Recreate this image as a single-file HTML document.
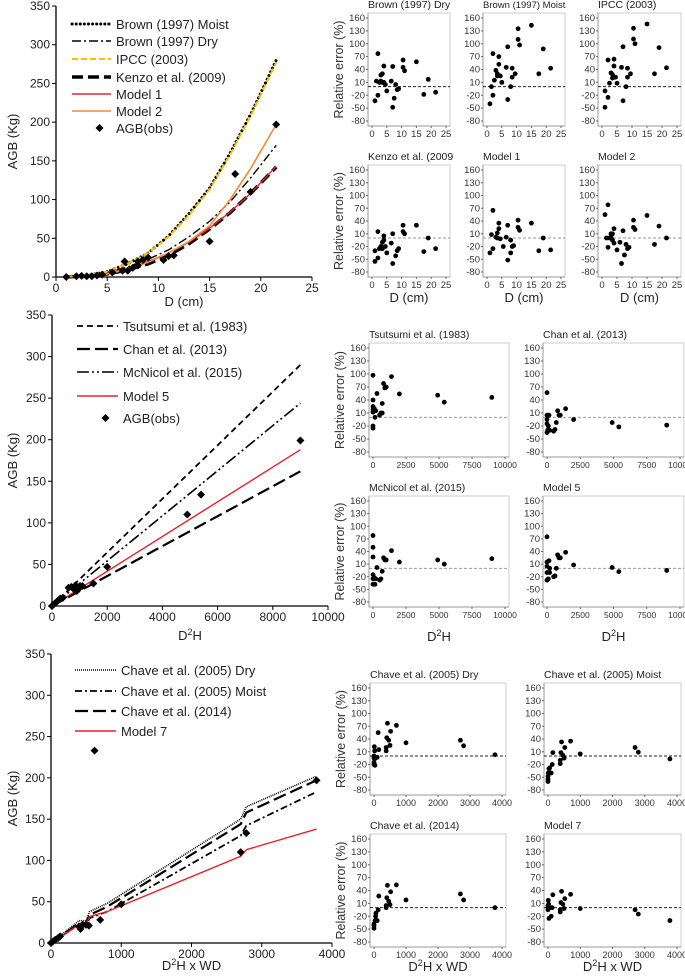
<!DOCTYPE html>
<html><head><meta charset="utf-8"><style>
body{margin:0;background:#fff;}
svg{display:block;font-family:"Liberation Sans",sans-serif;}
</style></head><body>
<svg id="fig" width="685" height="976" viewBox="0 0 685 976" xmlns="http://www.w3.org/2000/svg"></svg>
<script>
// ---------- Main chart 1 data (D cm) ----------
const c1Grid=[1,3,5,7,9,11,13,15,17,19,21.5];
const c1BrownMoist=[0.2,2,7,17,31,53,82,115,160,210,280];
const c1BrownDry=[0.3,2,6,13,23,35,52,72,97,128,170];
const c1IPCC=[0.2,2,7,17,31,52,80,113,158,208,277];
const c1Kenzo=[0.1,1,4,9,17,28,43,62,83,108,142];
const c1Model1=[0.2,1.5,5,11,20,31,45,63,84,108,143];
const c1Model2=[0.1,1,4,10,19,31,46,66,100,140,197];
const c1ObsX=[1,2,2.5,3,3.5,4,4.5,5.5,6.5,6.7,7,7.5,8,8,8.5,9,10.5,11,11.5,15,17.5,19,21.5];
const c1ObsY=[0,1,1.5,1,1,2,3,6,8,20,8,12,20,15,22,25,22,27,28,46,133,110,197];
const c1XTicks=[0,5,10,15,20,25];
const yTicksMain=[0,50,100,150,200,250,300,350];
// ---------- Main chart 2 (D2H) ----------
const c2Grid=[0,9000];
const c2Tsutsumi=[0,290];
const c2Chan=[0,162];
const c2McNicol=[0,244];
const c2Model5=[0,188];
const c2ObsX=[0,100,200,300,400,600,700,800,850,900,1000,1100,1500,2000,4900,5400,9000];
const c2ObsY=[0,3,6,9,10,22,23,20,25,18,22,24,27,47,110,134,199];
const c2XTicks=[0,2000,4000,6000,8000,10000];
// ---------- Main chart 3 (D2H x WD) ----------
const c3Grid=[0,400,500,550,800,2700,2780,3780];
const c3Dry=[0,27,27,38,48,150,165,202];
const c3Moist=[0,22,22,30,38,130,142,183];
const c3C2014=[0,24,24,34,44,144,158,197];
const c3Model7=[0,22,22,32,38,105,113,138];
const c3ObsX=[0,30,60,100,130,400,420,450,500,540,620,700,1000,2700,2780,3780];
const c3ObsY=[0,2,4,6,8,20,17,22,22,21,233,28,47,110,133,197];
const c3XTicks=[0,1000,2000,3000,4000];
// ---------- Residual panels ----------
const resYTicks=[160,130,100,70,40,10,-20,-50,-80];
const rBrownDry=[[1,-33],[1.5,13],[2,77],[2,-20],[2.5,10],[3,27],[3,13],[3.5,30],[3.5,10],[4,48],[4,10],[4.5,5],[5,-10],[6.5,13],[7,47],[7,-48],[7.5,-27],[8,5],[8.5,-7],[9,-5],[10.5,62],[10.5,45],[11,37],[15,58],[17.5,-18],[19,17],[21.5,-13]];
const rBrownMoist=[[1,-40],[1.5,0],[2,77],[2,-20],[2.5,15],[3,38],[3.5,30],[3.5,25],[4,52],[4,70],[4.5,25],[5,10],[6.5,45],[7,93],[7,-30],[8,0],[8.5,22],[8.5,43],[9.5,30],[10.5,135],[10.5,110],[11,97],[15,143],[17.5,30],[19,88],[21.5,43]];
const rIPCC=[[1,-10],[1,-48],[2,62],[2,-25],[2.5,8],[3,32],[3.5,28],[3.5,20],[4,48],[4,64],[4.5,22],[5,8],[6.5,45],[7,93],[7,-33],[8,0],[8.5,22],[8.5,43],[9.5,30],[10.5,136],[10.5,111],[11,100],[15,146],[17.5,30],[19,91],[21.5,44]];
const rKenzo=[[1,-55],[1,-30],[2,15],[2,-47],[2.5,-25],[3,-20],[3.5,-10],[3.5,-25],[4,5],[4,-5],[4.5,-20],[5,-35],[6.5,-12],[7,-60],[7,10],[8,-42],[8.5,-30],[9,-25],[10.5,30],[10.5,15],[11,10],[15,30],[17.5,-32],[19,0],[21.5,-25]];
const rModel1=[[1,-35],[1.5,8],[2,65],[2,-25],[3,2],[3.5,12],[3.5,0],[4,22],[4,35],[4.5,-2],[5.5,-20],[6.5,2],[7,30],[7,-52],[8,-5],[8,-35],[8.5,-20],[9,-18],[10.5,42],[10.5,25],[11,18],[15,35],[17.5,-30],[19,0],[21.5,-28]];
const rModel2=[[1,55],[1.5,0],[2,78],[2,-22],[2.5,0],[3,10],[3,2],[3.5,10],[3.5,-5],[4,22],[4,-12],[5,-28],[6,-10],[6.5,-60],[7,17],[7.5,-40],[8,-15],[8.5,-25],[9,-22],[10.5,42],[10.5,25],[11,20],[15,53],[17.5,-15],[19,28],[21.5,0]];
const rTsutsumi=[[0,97],[0,40],[0,25],[0,18],[0,12],[0,-20],[0,-25],[100,20],[150,0],[200,15],[300,55],[500,5],[600,10],[700,32],[700,10],[800,78],[900,68],[1000,70],[1400,94],[2000,54],[4900,51],[5400,35],[9000,46]];
const rChan=[[0,57],[0,5],[0,-5],[0,-15],[0,-35],[50,-30],[100,-20],[150,5],[200,-30],[500,-32],[600,-28],[700,-12],[800,15],[900,5],[1000,5],[1400,20],[2000,-5],[4900,-12],[5400,-22],[9000,-18]];
const rMcNicol=[[0,78],[0,50],[0,27],[0,-15],[0,-25],[0,-38],[100,-22],[150,-38],[300,2],[200,-25],[500,-28],[600,-25],[700,-7],[800,25],[900,20],[1000,20],[1400,42],[2000,15],[4900,20],[5400,10],[9000,23]];
const rModel5=[[0,75],[0,15],[0,5],[0,-10],[0,-28],[100,-25],[150,18],[200,0],[200,-10],[500,-20],[600,-18],[700,0],[800,32],[900,25],[1000,25],[1400,38],[2000,8],[4900,2],[5400,-8],[9000,-5]];
const rChaveDry=[[0,-15],[0,-20],[0,-5],[0,0],[10,22],[20,12],[30,-22],[50,-5],[100,-3],[130,55],[150,15],[380,12],[380,20],[400,43],[420,77],[460,37],[500,25],[520,58],[700,72],[1000,31],[2700,37],[2800,24],[3780,3]];
const rChaveMoist=[[0,-60],[0,-55],[0,-48],[10,-40],[30,-30],[50,-28],[100,-40],[130,-20],[150,8],[380,-10],[380,-18],[400,8],[420,33],[460,2],[500,-5],[520,20],[700,35],[1000,5],[2700,20],[2800,9],[3780,-7]];
const rChave2014=[[0,-48],[0,-42],[0,-38],[30,-30],[50,-20],[60,-13],[100,-30],[130,-5],[150,27],[380,0],[380,5],[400,23],[420,52],[460,15],[500,7],[520,37],[700,53],[1000,18],[2700,32],[2800,18],[3780,0]];
const rModel7=[[0,0],[0,5],[0,-5],[10,17],[20,8],[30,-25],[60,0],[100,-20],[130,0],[150,30],[380,-10],[380,-5],[400,12],[420,38],[460,8],[500,-2],[520,21],[700,31],[1000,-2],[2700,-5],[2800,-15],[3780,-30]];
const xTicksD=[0,5,10,15,20,25];
const xTicksD2H=[0,2500,5000,7500,10000];
const xTicksWD=[0,1000,2000,3000,4000];

const NS="http://www.w3.org/2000/svg";
const svg=document.getElementById('fig');
function mk(tag,attrs,parent){const e=document.createElementNS(NS,tag);for(const k in attrs)e.setAttribute(k,attrs[k]);(parent||svg).appendChild(e);return e;}
function txt(s,attrs,parent){const e=mk('text',attrs,parent);e.textContent=s;return e;}
function lin(d0,d1,p0,p1){return v=>p0+(v-d0)*(p1-p0)/(d1-d0);}

function mainChart(cfg){
  const g=mk('g',{});
  
  
  const xs=lin(cfg.xmin,cfg.xmax,cfg.x0,cfg.x1), ys=lin(0,350,cfg.y0,cfg.y1);
  const ax=mk('path',{d:`M${cfg.x0} ${cfg.y1}V${cfg.y0}H${cfg.x1}`,stroke:'#000','stroke-width':1.3,fill:'none'},g);
  
  yTicksMain.forEach(v=>{const y=ys(v);mk('line',{x1:cfg.x0-4,x2:cfg.x0,y1:y,y2:y,stroke:'#000'},g);
    const t=txt(String(v),{x:cfg.x0-6,y:y+4,'text-anchor':'end','font-size':12,fill:'#222'},g);
    });
  cfg.xticks.forEach(v=>{const x=xs(v);mk('line',{x1:x,x2:x,y1:cfg.y0,y2:cfg.y0+4,stroke:'#000'},g);
    const t=txt(String(v),{x:x,y:cfg.y0+15,'text-anchor':'middle','font-size':12,fill:'#222'},g);
    });
  const yt=txt('AGB (Kg)',{x:0,y:0,transform:`translate(17,${(cfg.y0+cfg.y1)/2}) rotate(-90)`,'text-anchor':'middle','font-size':13,fill:'#222'},g);
  
  const xt=mk('text',{x:(cfg.x0+cfg.x1)/2,y:cfg.xlabY,'text-anchor':'middle','font-size':13,fill:'#222'},g);
  xt.innerHTML=cfg.xlab;
  
  cfg.series.forEach(s=>{
    const d=cfg.grid.map((v,i)=>(i?'L':'M')+xs(v).toFixed(1)+' '+ys(s.vals[i]).toFixed(1)).join('');
    const p=mk('path',Object.assign({d:d,fill:'none'},s.style),g);
    
  });
  cfg.obsX.forEach((v,i)=>{const x=xs(v),y=ys(cfg.obsY[i]);
    const m=mk('path',{d:`M${x} ${y-4}L${x+4} ${y}L${x} ${y+4}L${x-4} ${y}Z`,fill:'#000'},g);
    });
  cfg.legend.forEach((l,i)=>{const y=cfg.legY[i];
    const lg=mk('g',{},g);
    if(l.style){mk('line',Object.assign({x1:cfg.legX0,x2:cfg.legX1,y1:y,y2:y},l.style),lg);}
    else{const x=(cfg.legX0+cfg.legX1)/2+8;mk('path',{d:`M${x} ${y-4}L${x+4} ${y}L${x} ${y+4}L${x-4} ${y}Z`,fill:'#000'},lg);}
    txt(l.label,{x:cfg.legX1+5,y:y+5,'font-size':13,fill:'#222'},lg);});
}
const stDotted={stroke:'#000','stroke-width':3,'stroke-dasharray':'0.1 4','stroke-linecap':'round'};
const stDashDot={stroke:'#000','stroke-width':1.4,'stroke-dasharray':'9 3 2 3'};
const stIPCC={stroke:'#f5c200','stroke-width':2,'stroke-dasharray':'6 3'};
const stKenzo={stroke:'#000','stroke-width':3.5,'stroke-dasharray':'11 5'};
const stRed={stroke:'#e8202a','stroke-width':1.4};
const stOrange={stroke:'#f08a3a','stroke-width':1.6};
mainChart({name:'main-chart-d',xmin:0,xmax:25,x0:56,x1:312,y0:277,y1:6,xticks:c1XTicks,xlab:'D (cm)',xlabY:306,grid:c1Grid,
 series:[{key:'kenzo',vals:c1Kenzo,style:stKenzo},{key:'brown-dry',vals:c1BrownDry,style:stDashDot},{key:'model1',vals:c1Model1,style:stRed},{key:'model2',vals:c1Model2,style:stOrange},{key:'brown-moist',vals:c1BrownMoist,style:stDotted},{key:'ipcc',vals:c1IPCC,style:stIPCC}],
 obsX:c1ObsX,obsY:c1ObsY,legX0:72,legX1:111,legY:[24,41,59,77,94,111,128],
 legend:[{label:'Brown (1997) Moist',style:stDotted},{label:'Brown (1997) Dry',style:stDashDot},{label:'IPCC (2003)',style:stIPCC},{label:'Kenzo et al. (2009)',style:stKenzo},{label:'Model 1',style:stRed},{label:'Model 2',style:stOrange},{label:'AGB(obs)'}]});
const stShort={stroke:'#000','stroke-width':1.8,'stroke-dasharray':'6 4'};
const stLong={stroke:'#000','stroke-width':2.2,'stroke-dasharray':'13 5'};
const stDDD={stroke:'#000','stroke-width':1.6,'stroke-dasharray':'12 3 2 3 2 3'};
mainChart({name:'main-chart-d2h',xmin:0,xmax:10000,x0:52,x1:328,y0:606,y1:315,xticks:c2XTicks,xlab:'D<tspan font-size="9" dy="-5">2</tspan><tspan dy="5">H</tspan>',xlabY:640,grid:c2Grid,
 series:[{key:'tsutsumi',vals:c2Tsutsumi,style:stShort},{key:'chan',vals:c2Chan,style:stLong},{key:'mcnicol',vals:c2McNicol,style:stDDD},{key:'model5',vals:c2Model5,style:stRed}],
 obsX:c2ObsX,obsY:c2ObsY,legX0:77,legX1:118,legY:[326,349,372,396,418],
 legend:[{label:'Tsutsumi et al. (1983)',style:stShort},{label:'Chan et al. (2013)',style:stLong},{label:'McNicol et al. (2015)',style:stDDD},{label:'Model 5',style:stRed},{label:'AGB(obs)'}]});
const stFine={stroke:'#000','stroke-width':1.6,'stroke-dasharray':'1 1'};
const stDD2={stroke:'#000','stroke-width':1.8,'stroke-dasharray':'7 3 2 3'};
mainChart({name:'main-chart-d2hwd',xmin:0,xmax:4000,x0:51,x1:332,y0:943,y1:654,xticks:c3XTicks,xlab:'D<tspan font-size="9" dy="-5">2</tspan><tspan dy="5">H x WD</tspan>',xlabY:970,grid:c3Grid,
 series:[{key:'chave-dry',vals:c3Dry,style:stFine},{key:'chave-moist',vals:c3Moist,style:stDD2},{key:'chave-2014',vals:c3C2014,style:stLong},{key:'model7',vals:c3Model7,style:stRed}],
 obsX:c3ObsX,obsY:c3ObsY,legX0:75,legX1:116,legY:[670,691,711,731],
 legend:[{label:'Chave et al. (2005) Dry',style:stFine},{label:'Chave et al. (2005) Moist',style:stDD2},{label:'Chave et al. (2014)',style:stLong},{label:'Model 7',style:stRed}]});

function resPanel(cfg){
  const g=mk('g',{});
  
  
  const xs=lin(0,cfg.xmax,cfg.x0,cfg.x1), ys=lin(160,-80,cfg.yt,cfg.yb);
  const L=cfg.x0-4,R=cfg.x1+4,T=cfg.yt-5,B=cfg.yb+5;
  mk('rect',{x:L,y:T,width:R-L,height:B-T,fill:'none',stroke:'#ccc','stroke-width':1},g);
  mk('path',{d:`M${L} ${T}V${B}H${R}`,fill:'none',stroke:'#999','stroke-width':1},g);
  resYTicks.forEach(v=>{const y=ys(v);mk('line',{x1:L-2,x2:L,y1:y,y2:y,stroke:'#666'},g);
    txt(String(v),{x:L-3,y:y+3,'text-anchor':'end','font-size':9.5,fill:'#333'},g);});
  cfg.xticks.forEach(v=>{const x=xs(v);mk('line',{x1:x,x2:x,y1:B,y2:B+2,stroke:'#666'},g);
    txt(String(v),{x:x,y:B+11,'text-anchor':'middle','font-size':cfg.xfs||9.5,fill:'#333'},g);});
  const zl=mk('line',{x1:L,x2:R,y1:ys(0),y2:ys(0),stroke:cfg.zc||'#666','stroke-width':1,'stroke-dasharray':'3 2'},g);
  
  cfg.pts.forEach(p=>{const c=mk('circle',{cx:xs(p[0]),cy:ys(p[1]),r:2.4,fill:'#000'},g);
    });
  const t=txt(cfg.title,{x:L,y:T-5,'font-size':cfg.tfs||10.5,fill:'#222'},g);
  
  if(cfg.ylab){const yl=txt('Relative error (%)',{x:0,y:0,transform:`translate(${L-25},${(T+B)/2}) rotate(-90)`,'text-anchor':'middle','font-size':12.5,fill:'#333'},g);
    }
  if(cfg.xlab){const xl=mk('text',{x:(L+R)/2,y:cfg.xlabY,'text-anchor':'middle','font-size':13,fill:'#222'},g);xl.innerHTML=cfg.xlab;
    }
}
const DL='D (cm)', D2='D<tspan font-size="9" dy="-5">2</tspan><tspan dy="5">H</tspan>', WD='D<tspan font-size="9" dy="-5">2</tspan><tspan dy="5">H x WD</tspan>';
const topX=[[372,446],[487,561],[602,677]];
[[rBrownDry,'Brown (1997) Dry'],[rBrownMoist,'Brown (1997) Moist'],[rIPCC,'IPCC (2003)']].forEach((p,i)=>
 resPanel({pts:p[0],title:p[1],xmax:25,x0:topX[i][0],x1:topX[i][1],yt:18,yb:121,xticks:xTicksD,ylab:i==0,tfs:i==1?9.5:10.5,zc:'#222'}));
[[rKenzo,'Kenzo et al. (2009'],[rModel1,'Model 1'],[rModel2,'Model 2']].forEach((p,i)=>
 resPanel({pts:p[0],title:p[1],xmax:25,x0:topX[i][0],x1:topX[i][1],yt:170,yb:272,xticks:xTicksD,ylab:i==0,xlab:DL,xlabY:302,zc:'#999'}));
const midX=[[373,505],[547,680]];
[[rTsutsumi,'Tsutsumi et al. (1983)'],[rChan,'Chan et al. (2013)']].forEach((p,i)=>
 resPanel({pts:p[0],title:p[1],xmax:10000,x0:midX[i][0],x1:midX[i][1],yt:348,yb:452,xticks:xTicksD2H,ylab:i==0,xfs:8.5,zc:'#999'}));
[[rMcNicol,'McNicol et al. (2015)'],[rModel5,'Model 5']].forEach((p,i)=>
 resPanel({pts:p[0],title:p[1],xmax:10000,x0:midX[i][0],x1:midX[i][1],yt:501,yb:602,xticks:xTicksD2H,ylab:i==0,xfs:8.5,xlab:D2,xlabY:641,zc:'#999'}));
const botX=[[374,502],[548,677]];
[[rChaveDry,'Chave et al. (2005) Dry'],[rChaveMoist,'Chave et al. (2005) Moist']].forEach((p,i)=>
 resPanel({pts:p[0],title:p[1],xmax:4000,x0:botX[i][0],x1:botX[i][1],yt:688,yb:790,xticks:xTicksWD,ylab:i==0,xfs:9,zc:'#222'}));
[[rChave2014,'Chave et al. (2014)'],[rModel7,'Model 7']].forEach((p,i)=>
 resPanel({pts:p[0],title:p[1],xmax:4000,x0:botX[i][0],x1:botX[i][1],yt:839,yb:942,xticks:xTicksWD,ylab:i==0,xfs:9,xlab:WD,xlabY:971,zc:'#222'}));
</script>
</body></html>
